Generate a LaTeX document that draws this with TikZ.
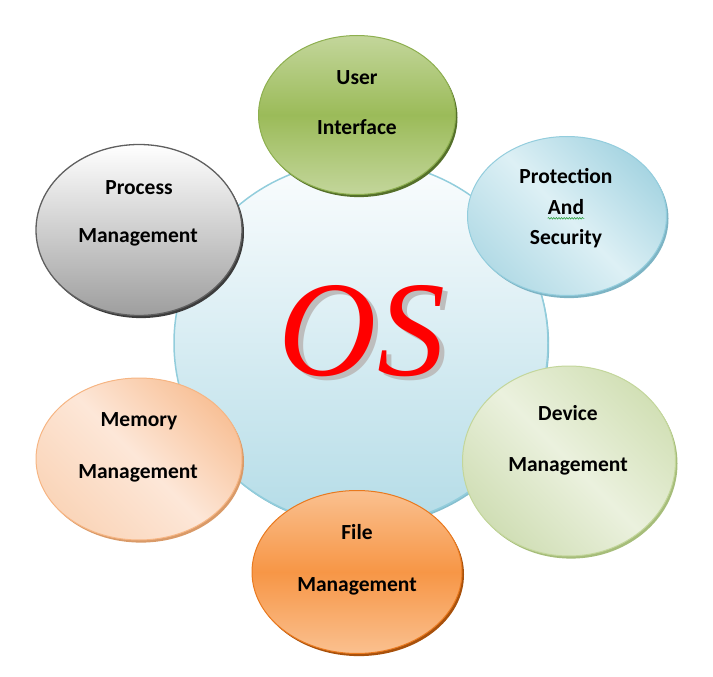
\documentclass[tikz,border=0pt]{standalone}
\usepackage{fontspec}
\newfontfamily\lblfont{Carlito}
\newfontfamily\osfont{Liberation Serif}
\usetikzlibrary{shapes.geometric,shadows,decorations.pathmorphing}
\definecolor{coreTop}{HTML}{FBFDFE}
\definecolor{coreBot}{HTML}{B4DCE7}
\definecolor{coreLine}{HTML}{92CDDC}
\definecolor{coreShd}{HTML}{86BFCF}
\definecolor{uiA}{HTML}{C3D69B}
\definecolor{uiB}{HTML}{9BBB59}
\definecolor{uiLine}{HTML}{8DAF4F}
\definecolor{uiShd}{HTML}{55702A}
\definecolor{psA}{HTML}{A7D5E2}
\definecolor{psB}{HTML}{DDF0F5}
\definecolor{psC}{HTML}{B3DBE6}
\definecolor{psLine}{HTML}{93CDDD}
\definecolor{psShd}{HTML}{7DB4C4}
\definecolor{pmA}{HTML}{FFFFFF}
\definecolor{pmB}{HTML}{9E9E9E}
\definecolor{pmLine}{HTML}{5F5F5F}
\definecolor{pmShd}{HTML}{3C3C3C}
\definecolor{mmA}{HTML}{F8C198}
\definecolor{mmB}{HTML}{FDE7D8}
\definecolor{mmC}{HTML}{FAD5B9}
\definecolor{mmLine}{HTML}{F6B583}
\definecolor{mmShd}{HTML}{D99A68}
\definecolor{dmA}{HTML}{D2E0B6}
\definecolor{dmB}{HTML}{EBF1DE}
\definecolor{dmC}{HTML}{D0DEB5}
\definecolor{dmLine}{HTML}{C3D69B}
\definecolor{dmShd}{HTML}{A6BD7A}
\definecolor{fmA}{HTML}{FAC08F}
\definecolor{fmB}{HTML}{F79646}
\definecolor{fmLine}{HTML}{E9791E}
\definecolor{fmShd}{HTML}{A8510C}
\definecolor{osRed}{HTML}{FF0000}
\definecolor{osGray}{HTML}{BDBDBD}
\definecolor{squig}{HTML}{2EA043}
\tikzset{
  bubble/.style={ellipse, inner sep=0pt, outer sep=0pt, line width=1pt},
  rim/.style={drop shadow={shadow xshift=2pt, shadow yshift=-2.6pt, fill=#1, opacity=1}},
  lbl/.style={font=\lblfont\bfseries\fontsize{21.5}{24}\selectfont, anchor=base, inner sep=0pt, text=black},
  ostext/.style={font=\osfont\itshape\fontsize{136}{136}\selectfont, inner sep=0pt},
  squiggle/.style={draw=squig, line width=0.6pt, decorate, decoration={snake, amplitude=0.8pt, segment length=2.6pt}}
}
\begin{document}
\begin{tikzpicture}[x=1pt, y=-1pt]
\useasboundingbox (0,0) rectangle (713,677);
% central circle
\node[bubble, draw=coreLine, line width=1.5pt, top color=coreTop, bottom color=coreBot,
      drop shadow={shadow xshift=1.2pt, shadow yshift=-2pt, fill=coreShd, opacity=1},
      minimum width=374pt, minimum height=364pt] (core) at (361,343) {};
\node[ostext, text=osGray] (osshd) at (367,335) {OS};
\node[ostext, text=osRed] (os) at (362,331) {OS};
% satellites
\node[bubble, rim=uiShd, draw=uiLine, top color=uiA, bottom color=uiA, middle color=uiB,
      minimum width=197pt, minimum height=159pt] (ui) at (357,115) {};
\node[bubble, rim=psShd, draw=psLine, top color=psA, bottom color=psC, middle color=psB, shading angle=-45,
      minimum width=199pt, minimum height=159pt] (ps) at (567,216) {};
\node[bubble, rim=pmShd, draw=pmLine, line width=1.3pt, top color=pmA, bottom color=pmB,
      minimum width=206pt, minimum height=171pt] (pm) at (139,230) {};
\node[bubble, rim=mmShd, draw=mmLine, top color=mmA, bottom color=mmC, middle color=mmB, shading angle=-45,
      minimum width=206pt, minimum height=162pt] (mm) at (139,459) {};
\node[bubble, rim=dmShd, draw=dmLine, top color=dmA, bottom color=dmC, middle color=dmB, shading angle=-45,
      minimum width=213pt, minimum height=190pt] (dm) at (569,461) {};
\node[bubble, rim=fmShd, draw=fmLine, top color=fmA, bottom color=fmA, middle color=fmB,
      minimum width=210pt, minimum height=163pt] (fm) at (357,572) {};
% labels
\node[lbl] (ui1) at (357,84.5) {User};
\node[lbl] (ui2) at (357,134.5) {Interface};
\node[lbl] (ps1) at (566,183.5) {Protection};
\node[lbl] (ps2) at (566,214.5) {And};
\node[lbl] (ps3) at (566,244.5) {Security};
\draw[squiggle] ([yshift=-3.8pt]ps2.base west) -- ([yshift=-3.8pt]ps2.base east);
\node[lbl] (pm1) at (139,194.5) {Process};
\node[lbl] (pm2) at (138,242.5) {Management};
\node[lbl] (mm1) at (139,426.5) {Memory};
\node[lbl] (mm2) at (138,478.5) {Management};
\node[lbl] (dm1) at (568,420.5) {Device};
\node[lbl] (dm2) at (568,471.5) {Management};
\node[lbl] (fm1) at (357,539.5) {File};
\node[lbl] (fm2) at (357,591.5) {Management};
\end{tikzpicture}
\end{document}
